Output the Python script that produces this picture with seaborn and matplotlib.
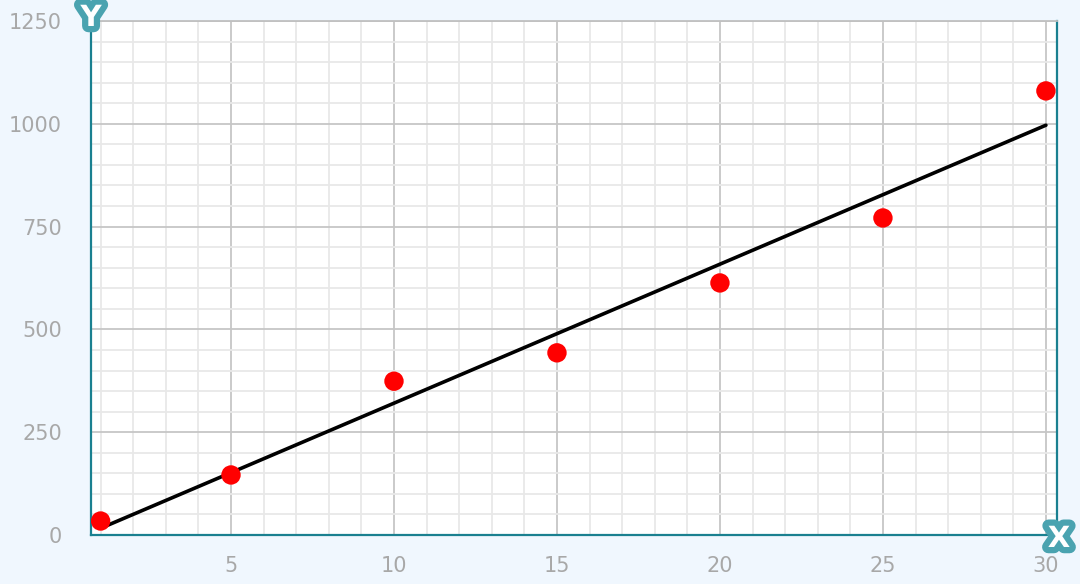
import matplotlib
matplotlib.use("Agg")
import matplotlib.pyplot as plt
import matplotlib.patheffects as pe
from matplotlib.ticker import MultipleLocator
import seaborn as sns
import pandas as pd

x_vals = [1, 5, 10, 15, 20, 25, 30]
y_vals = [34, 146, 374, 443, 613, 771, 1080]
x_ticks = [5, 10, 15, 20, 25, 30]
y_ticks = [0, 250, 500, 750, 1000, 1250]

df = pd.DataFrame({"x": x_vals, "y": y_vals})

sns.set_theme(style="white")
plt.rcParams['font.family'] = ['DejaVu Sans']

fig = plt.figure(figsize=(10.8, 5.84), dpi=100, facecolor="#f0f7fe")
ax = fig.add_axes([91/1080, 1-535/584, (1057-91)/1080, (535-21)/584])
ax.set_facecolor("white")

sns.regplot(data=df, x="x", y="y", ci=None, ax=ax,
            scatter_kws=dict(s=195, color="#ff0000", edgecolor="none", zorder=4, alpha=1),
            line_kws=dict(color="black", lw=2.6, zorder=3))

ax.set_xlim(0.705, 30.34)
ax.set_ylim(0, 1250)
ax.set_xticks(x_ticks)
ax.set_yticks(y_ticks)
ax.xaxis.set_minor_locator(MultipleLocator(1))
ax.yaxis.set_minor_locator(MultipleLocator(50))
ax.grid(which="major", color="#c6c6c6", lw=1.3, zorder=0)
ax.grid(which="minor", color="#e8e8e8", lw=1.3, zorder=0)
ax.set_axisbelow(True)
ax.set_xlabel("")
ax.set_ylabel("")

ax.tick_params(axis="x", which="major", length=8, width=1, color="#b8cce0",
               labelsize=15, labelcolor="#a8a8a8", pad=7)
ax.tick_params(axis="y", which="major", length=0, labelsize=15,
               labelcolor="#a8a8a8", pad=21)
ax.tick_params(which="minor", length=0)

teal = "#1a8090"
for side in ["left", "bottom", "right"]:
    ax.spines[side].set_visible(True)
    ax.spines[side].set_color(teal)
    ax.spines[side].set_linewidth(1.6)
ax.spines["top"].set_visible(True)
ax.spines["top"].set_color("#c0c0c0")
ax.spines["top"].set_linewidth(1.3)

badge = [pe.withStroke(linewidth=9, foreground="#4aa3b0")]
fig.text(91/1080, 1-18/584, "Y", ha="center", va="center", fontsize=21,
         fontweight="bold", color="white", path_effects=badge)
fig.text(1059/1080, 1-539/584, "X", ha="center", va="center", fontsize=21,
         fontweight="bold", color="white", path_effects=badge)

fig.savefig("out.png", dpi=100, facecolor=fig.get_facecolor())
